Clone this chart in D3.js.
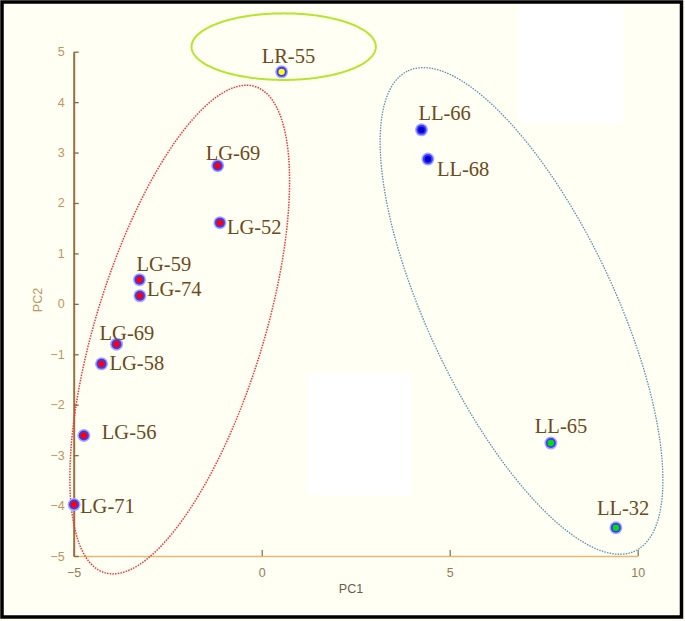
<!DOCTYPE html>
<html><head><meta charset="utf-8">
<script src="https://cdn.jsdelivr.net/npm/d3@7"></script>
<style>html,body{margin:0;padding:0;background:#fff;}</style>
</head><body>
<svg id="chart" width="685" height="621"></svg>
<script>
// ---- data ----
const names = ["LR-55","LG-69","LG-52","LG-59","LG-74","LG-69","LG-58","LG-56","LG-71","LL-66","LL-68","LL-65","LL-32"];
const pc1 = [0.53,-1.17,-1.11,-3.25,-3.24,-3.86,-4.26,-4.73,-4.99,4.25,4.42,7.69,9.42];
const pc2 = [4.60,2.74,1.61,0.48,0.16,-0.80,-1.19,-2.61,-3.98,3.45,2.87,-2.76,-4.44];
const groups = ["LR","LG","LG","LG","LG","LG","LG","LG","LG","LL1","LL1","LL2","LL2"];
const xTicks = [-5,0,5,10];
const yTicks = [-5,-4,-3,-2,-1,0,1,2,3,4,5];
// ellipses in data units: centre, two conjugate semi-axis vectors
const ellipseCentres = [[0.585,5.1],[-2.18,-0.51],[6.91,-0.14]];
const ellipseAxisA = [[2.45,0],[2.0,4.82],[-3.02,4.76]];
const ellipseAxisB = [[0,0.66],[2.13,-0.49],[2.24,0.79]];

// ---- styles ----
const innerColor = {LR:"#ffff00", LG:"#ff0000", LL1:"#0000d0", LL2:"#00e000"};
const labelDx = [-20,-12,7,-3,7,-17,8,18,6,-3,9,-16,-19];
const labelDy = [-9,-6,11,-9,0,-4,6,4,8,-10,17,-10,-13];
const ellipseStyles = [
  {stroke:"#b4e62a", width:2, dash:null},
  {stroke:"#ff3030", width:1.5, dash:"1.5,1.2"},
  {stroke:"#5a90b0", width:1.3, dash:"1.5,1.2"}
];

const svg = d3.select("#chart");
svg.append("rect").attr("x",0).attr("y",0).attr("width",685).attr("height",621).attr("fill","#fffff3");
// white patches of the original scan
svg.append("rect").attr("x",518).attr("y",4).attr("width",105).attr("height",119).attr("fill","#ffffff");
svg.append("rect").attr("x",307).attr("y",373).attr("width",105).attr("height",122).attr("fill","#ffffff");

const x = d3.scaleLinear().domain([-5,10]).range([73.7,637.7]);
const y = d3.scaleLinear().domain([-5,5]).range([556,51.7]);

// axes
const xAxis = d3.axisBottom(x).tickValues(xTicks).tickSizeInner(-6).tickSizeOuter(0).tickPadding(12);
const gx = svg.append("g").attr("transform",`translate(0,${y(-5)})`).call(xAxis);
gx.select(".domain").attr("stroke","#e6b877").attr("stroke-width",1.6);
gx.selectAll(".tick line").attr("stroke","#8a6a40").attr("stroke-width",1.2);
gx.selectAll(".tick text").attr("fill","#9a7a55").style("font-family","Arial, 'Liberation Sans', sans-serif").style("font-size","12.5px");

const yAxis = d3.axisLeft(y).tickValues(yTicks).tickSizeInner(-5).tickSizeOuter(0).tickPadding(9);
const gy = svg.append("g").attr("transform",`translate(${x(-5)},0)`).call(yAxis);
gy.select(".domain").attr("stroke","#9a7040").attr("stroke-width",2);
gy.selectAll(".tick line").attr("stroke","#8a6a40").attr("stroke-width",1.3);
gy.selectAll(".tick text").attr("fill","#c0955f").style("font-family","Arial, 'Liberation Sans', sans-serif").style("font-size","12.5px");

svg.append("text").attr("x",351).attr("y",593).attr("text-anchor","middle")
  .attr("fill","#6e5c48").style("font-family","Arial, 'Liberation Sans', sans-serif").style("font-size","12.5px").text("PC1");
svg.append("text").attr("transform","translate(42,300) rotate(-90)").attr("text-anchor","middle")
  .attr("fill","#c0955f").style("font-family","Arial, 'Liberation Sans', sans-serif").style("font-size","12.5px").text("PC2");

// ellipses
const line = d3.line().x(d=>x(d[0])).y(d=>y(d[1])).curve(d3.curveLinearClosed);
ellipseCentres.forEach((c,i)=>{
  const pts = d3.range(0,360,1).map(deg=>{
    const t = deg*Math.PI/180;
    return [c[0]+ellipseAxisA[i][0]*Math.cos(t)+ellipseAxisB[i][0]*Math.sin(t),
            c[1]+ellipseAxisA[i][1]*Math.cos(t)+ellipseAxisB[i][1]*Math.sin(t)];
  });
  const st = ellipseStyles[i];
  svg.append("path").attr("d",line(pts)).attr("fill","none")
    .attr("stroke",st.stroke).attr("stroke-width",st.width)
    .attr("stroke-dasharray",st.dash);
});

// points
const idx = d3.range(names.length);
const pg = svg.append("g");
pg.selectAll("circle.halo").data(idx).join("circle").attr("class","halo")
  .attr("cx",i=>x(pc1[i])).attr("cy",i=>y(pc2[i])).attr("r",6.5).attr("fill","#a8a8ff");
pg.selectAll("circle.ring").data(idx).join("circle").attr("class","ring")
  .attr("cx",i=>x(pc1[i])).attr("cy",i=>y(pc2[i])).attr("r",5).attr("fill","#3a3aff");
pg.selectAll("circle.inner").data(idx).join("circle").attr("class","inner")
  .attr("cx",i=>x(pc1[i])).attr("cy",i=>y(pc2[i])).attr("r",3.2).attr("fill",i=>innerColor[groups[i]]);

// labels
svg.append("g").selectAll("text").data(idx).join("text")
  .attr("x",i=>x(pc1[i])+labelDx[i]).attr("y",i=>y(pc2[i])+labelDy[i])
  .attr("fill","#6e4a20").style("font-family","'Liberation Serif','Times New Roman',serif")
  .style("font-size","20.5px").text(i=>names[i]);

// frame
svg.append("rect").attr("x",2).attr("y",2).attr("width",679.5).attr("height",615).attr("fill","none")
  .attr("stroke","#000").attr("stroke-width",3.5);
</script>
</body></html>
